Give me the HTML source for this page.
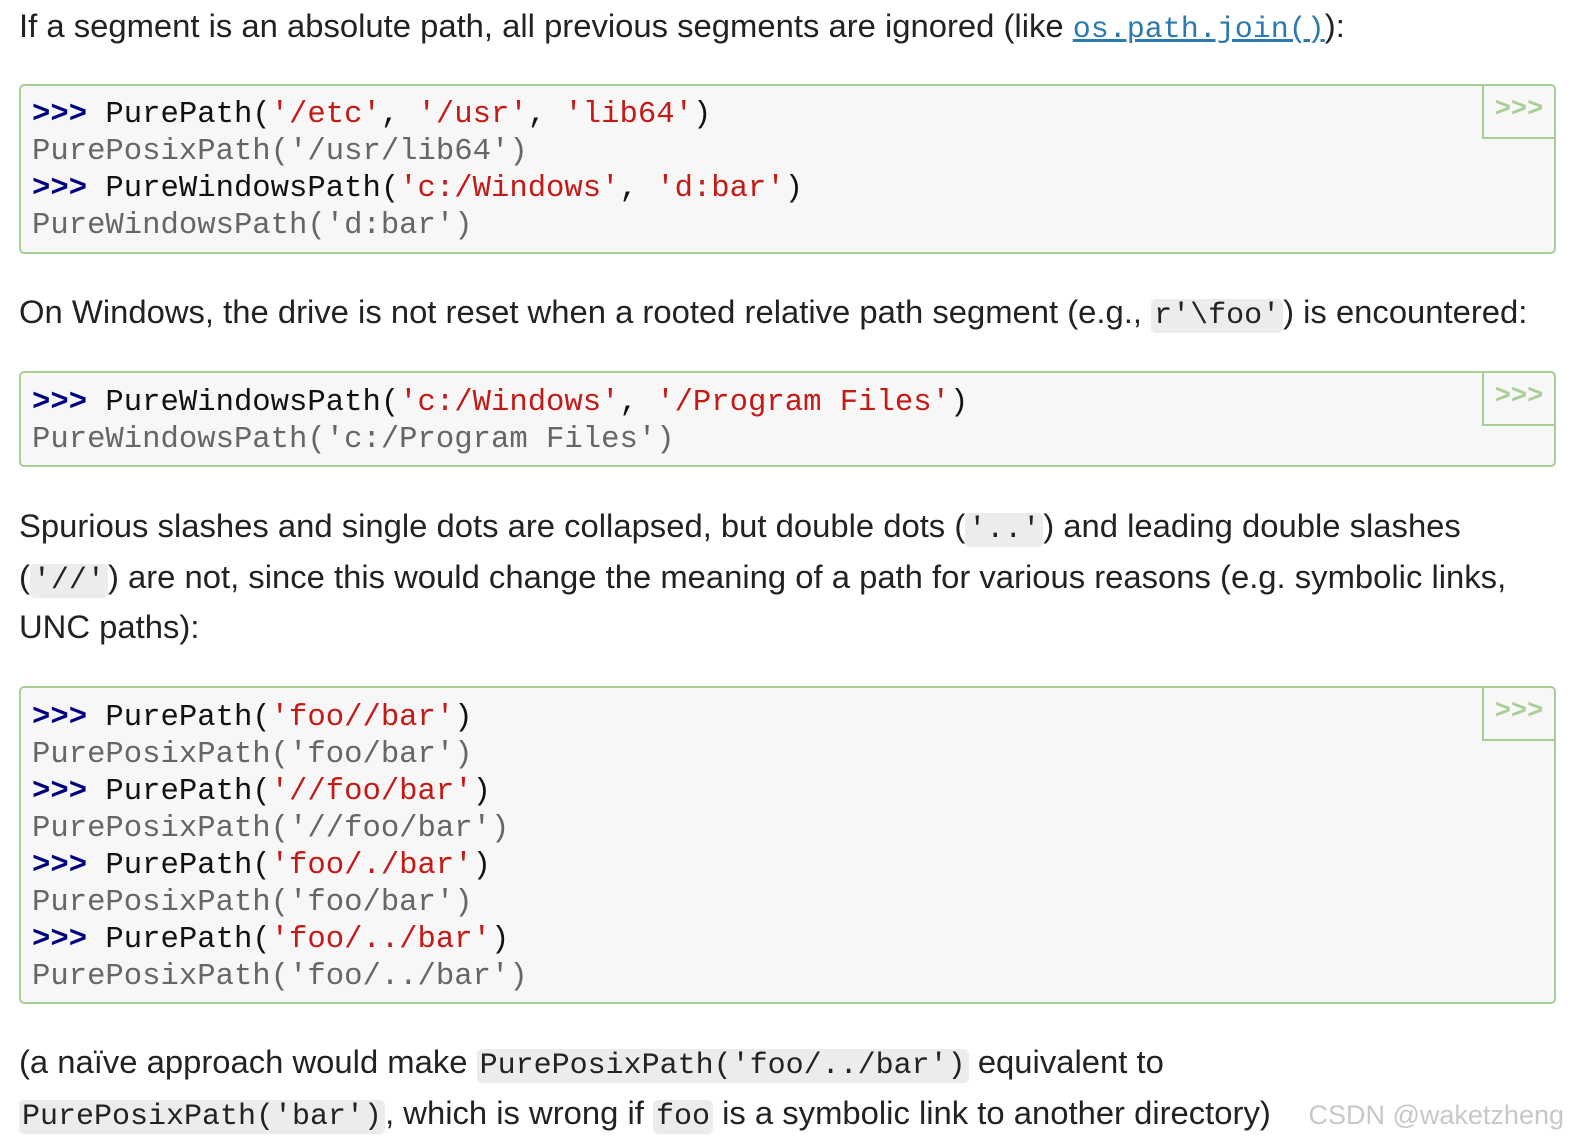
<!DOCTYPE html>
<html><head><meta charset="utf-8"><style>
body{margin:0;width:1572px;height:1148px;background:#fff;position:relative;overflow:hidden;font-family:"Liberation Sans",Arial,sans-serif;color:#222}
.p{position:absolute;left:19px;font-size:32.8px;line-height:40px;white-space:nowrap}
.box{position:absolute;left:19px;width:1533px;background:#f7f7f7;border:2px solid #a9cf96;border-radius:5px}
.btn{position:absolute;right:0;top:0;width:70px;height:51px;border-left:2px solid #a9cf96;border-bottom:2px solid #a9cf96;color:#a9cf96;font-family:"Liberation Mono",monospace;font-size:27px;line-height:48px;text-align:center;font-weight:bold}
.c{position:absolute;left:11px;font-family:"Liberation Mono",monospace;font-size:30.6px;line-height:37px;white-space:pre;color:#111}
.pr{color:#000080;font-weight:bold}
.s{color:#c41a16}
.o{color:#666}
code{font-family:"Liberation Mono",monospace;font-size:30px;background:#ececec;border-radius:5px;padding:0 3px}
a{color:#2a7ab0;font-family:"Liberation Mono",monospace;font-size:30px;text-decoration:underline}
.wm{position:absolute;right:8px;top:1100px;font-size:27px;color:#c8c8c8}
</style></head><body>
<div class="p" style="top:6px">If a segment is an absolute path, all previous segments are ignored (like <a>os.path.join()</a>):</div>
<div class="box" style="top:84px;height:166px"><div class="btn">&gt;&gt;&gt;</div>
<div class="c" style="top:11px"><span class="pr">&gt;&gt;&gt;</span> PurePath(<span class="s">'/etc'</span>, <span class="s">'/usr'</span>, <span class="s">'lib64'</span>)
<span class="o">PurePosixPath('/usr/lib64')</span>
<span class="pr">&gt;&gt;&gt;</span> PureWindowsPath(<span class="s">'c:/Windows'</span>, <span class="s">'d:bar'</span>)
<span class="o">PureWindowsPath('d:bar')</span></div></div>
<div class="p" style="top:292px">On Windows, the drive is not reset when a rooted relative path segment (e.g., <code>r'\foo'</code>) is encountered:</div>
<div class="box" style="top:371px;height:92px"><div class="btn">&gt;&gt;&gt;</div>
<div class="c" style="top:12px"><span class="pr">&gt;&gt;&gt;</span> PureWindowsPath(<span class="s">'c:/Windows'</span>, <span class="s">'/Program Files'</span>)
<span class="o">PureWindowsPath('c:/Program Files')</span></div></div>
<div class="p" style="top:506px">Spurious slashes and single dots are collapsed, but double dots (<code>'..'</code>) and leading double slashes</div>
<div class="p" style="top:557px">(<code>'//'</code>) are not, since this would change the meaning of a path for various reasons (e.g. symbolic links,</div>
<div class="p" style="top:607px">UNC paths):</div>
<div class="box" style="top:686px;height:314px"><div class="btn">&gt;&gt;&gt;</div>
<div class="c" style="top:12px"><span class="pr">&gt;&gt;&gt;</span> PurePath(<span class="s">'foo//bar'</span>)
<span class="o">PurePosixPath('foo/bar')</span>
<span class="pr">&gt;&gt;&gt;</span> PurePath(<span class="s">'//foo/bar'</span>)
<span class="o">PurePosixPath('//foo/bar')</span>
<span class="pr">&gt;&gt;&gt;</span> PurePath(<span class="s">'foo/./bar'</span>)
<span class="o">PurePosixPath('foo/bar')</span>
<span class="pr">&gt;&gt;&gt;</span> PurePath(<span class="s">'foo/../bar'</span>)
<span class="o">PurePosixPath('foo/../bar')</span></div></div>
<div class="p" style="top:1042px">(a naïve approach would make <code>PurePosixPath('foo/../bar')</code> equivalent to</div>
<div class="p" style="top:1093px"><code>PurePosixPath('bar')</code>, which is wrong if <code>foo</code> is a symbolic link to another directory)</div>
<div class="wm">CSDN @waketzheng</div>
</body></html>
